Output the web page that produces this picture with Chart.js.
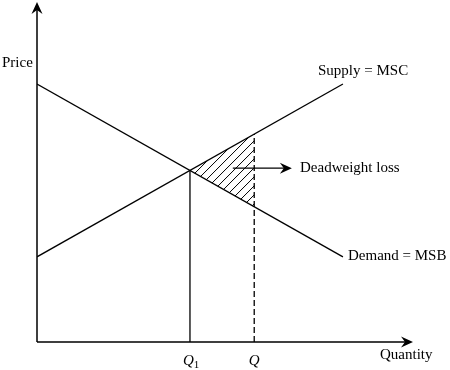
<!DOCTYPE html>
<html>
<head>
<meta charset="utf-8">
<script src="https://cdn.jsdelivr.net/npm/chart.js@4.4.0/dist/chart.umd.min.js"></script>
<style>
html,body{margin:0;padding:0;background:#fff;}
#wrap{width:450px;height:370px;}
</style>
</head>
<body>
<div id="wrap"><canvas id="c" width="450" height="370"></canvas></div>
<script>
// ---- data (quantity units on x, price units on y) ----
const demandX = [0, 10];
const demandY = [10, 3.3];
const supplyX = [0, 10];
const supplyY = [3.3, 10];
const q1 = 5.0;          // equilibrium quantity Q1
const q = 7.1;           // actual quantity Q
const eqPrice = 6.65;    // price at equilibrium
const supplyAtQ = 8.06;  // MSC at Q
const demandAtQ = 5.24;  // MSB at Q
const arrowX = [6.4, 8.33];
const arrowY = 6.74;
const xMax = 12.29;
const yMax = 13.18;

const FONT = '"Liberation Serif", "Times New Roman", serif';

const wedge = [
  {x: q1, y: eqPrice},
  {x: q, y: supplyAtQ},
  {x: q, y: demandAtQ}
];

function stealth(ctx, x, y, dir) {
  ctx.save();
  ctx.translate(x, y);
  if (dir === 'right') ctx.rotate(Math.PI / 2);
  ctx.beginPath();
  ctx.moveTo(0, 0);
  ctx.lineTo(-5.5, 12);
  ctx.lineTo(0, 8);
  ctx.lineTo(5.5, 12);
  ctx.closePath();
  ctx.fillStyle = '#000';
  ctx.fill();
  ctx.restore();
}

const decor = {
  id: 'decor',
  beforeDatasetsDraw(chart) {
    const c = chart.ctx;
    const xs = chart.scales.x, ys = chart.scales.y;
    const pts = wedge.map(p => [xs.getPixelForValue(p.x), ys.getPixelForValue(p.y)]);
    const minX = Math.min(...pts.map(p => p[0])), maxX = Math.max(...pts.map(p => p[0]));
    const minY = Math.min(...pts.map(p => p[1])), maxY = Math.max(...pts.map(p => p[1]));
    c.save();
    c.beginPath();
    pts.forEach((p, i) => i ? c.lineTo(p[0], p[1]) : c.moveTo(p[0], p[1]));
    c.closePath();
    c.clip();
    c.strokeStyle = '#000';
    c.lineWidth = 1;
    c.beginPath();
    const span = maxY - minY;
    for (let k = minX - span - 10; k < maxX + 10; k += 9) {
      c.moveTo(k, maxY);
      c.lineTo(k + span, minY);
    }
    c.stroke();
    c.restore();
  },
  afterDatasetsDraw(chart) {
    const c = chart.ctx;
    const xs = chart.scales.x, ys = chart.scales.y;
    const x0 = xs.getPixelForValue(0), y0 = ys.getPixelForValue(0);
    const xe = xs.getPixelForValue(xMax), ye = ys.getPixelForValue(yMax);
    c.save();
    c.strokeStyle = '#000';
    c.lineWidth = 1.5;
    c.beginPath();
    c.moveTo(x0, y0); c.lineTo(x0, ye + 4);
    c.moveTo(x0, y0); c.lineTo(xe - 4, y0);
    c.stroke();
    stealth(c, x0, ye, 'up');
    stealth(c, xe, y0, 'right');

    const ax1 = xs.getPixelForValue(arrowX[0]), ax2 = xs.getPixelForValue(arrowX[1]);
    const ay = ys.getPixelForValue(arrowY);
    c.lineWidth = 1.2;
    c.beginPath(); c.moveTo(ax1, ay); c.lineTo(ax2 - 4, ay); c.stroke();
    stealth(c, ax2, ay, 'right');

    c.fillStyle = '#000';
    c.font = '15px ' + FONT;
    c.textBaseline = 'alphabetic';
    c.textAlign = 'left';
    c.fillText('Price', 2, 67);
    c.fillText('Supply = MSC', 318, 75);
    c.fillText('Demand = MSB', 348, 260);
    c.fillText('Deadweight loss', 300, 172);
    c.fillText('Quantity', 380, 359);

    const qx1 = xs.getPixelForValue(q1), qx = xs.getPixelForValue(q);
    c.font = 'italic 15px ' + FONT;
    const w = c.measureText('Q').width;
    c.fillText('Q', qx1 - 7, 365);
    c.font = '11px ' + FONT;
    c.fillText('1', qx1 - 7 + w, 368);
    c.font = 'italic 15px ' + FONT;
    c.textAlign = 'center';
    c.fillText('Q', qx, 365);
    c.restore();
  }
};

new Chart(document.getElementById('c').getContext('2d'), {
  type: 'scatter',
  data: {
    datasets: [
      {
        label: 'Supply = MSC',
        data: supplyX.map((x, i) => ({x, y: supplyY[i]})),
        showLine: true,
        borderColor: '#000',
        borderWidth: 1.3,
        pointRadius: 0,
        fill: false
      },
      {
        label: 'Demand = MSB',
        data: demandX.map((x, i) => ({x, y: demandY[i]})),
        showLine: true,
        borderColor: '#000',
        borderWidth: 1.3,
        pointRadius: 0,
        fill: false
      },
      {
        label: 'Q1',
        data: [{x: q1, y: 0}, {x: q1, y: eqPrice}],
        showLine: true,
        borderColor: '#000',
        borderWidth: 1.3,
        pointRadius: 0,
        fill: false
      },
      {
        label: 'Q',
        data: [{x: q, y: 0}, {x: q, y: supplyAtQ}],
        showLine: true,
        borderColor: '#000',
        borderWidth: 1.3,
        borderDash: [6, 3],
        pointRadius: 0,
        fill: false
      }
    ]
  },
  options: {
    responsive: false,
    animation: false,
    layout: {padding: {left: 37, top: 2, right: 37, bottom: 28}},
    plugins: {legend: {display: false}, tooltip: {enabled: false}},
    scales: {
      x: {type: 'linear', min: 0, max: xMax, display: false},
      y: {type: 'linear', min: 0, max: yMax, display: false}
    }
  },
  plugins: [decor]
});
</script>
</body>
</html>
